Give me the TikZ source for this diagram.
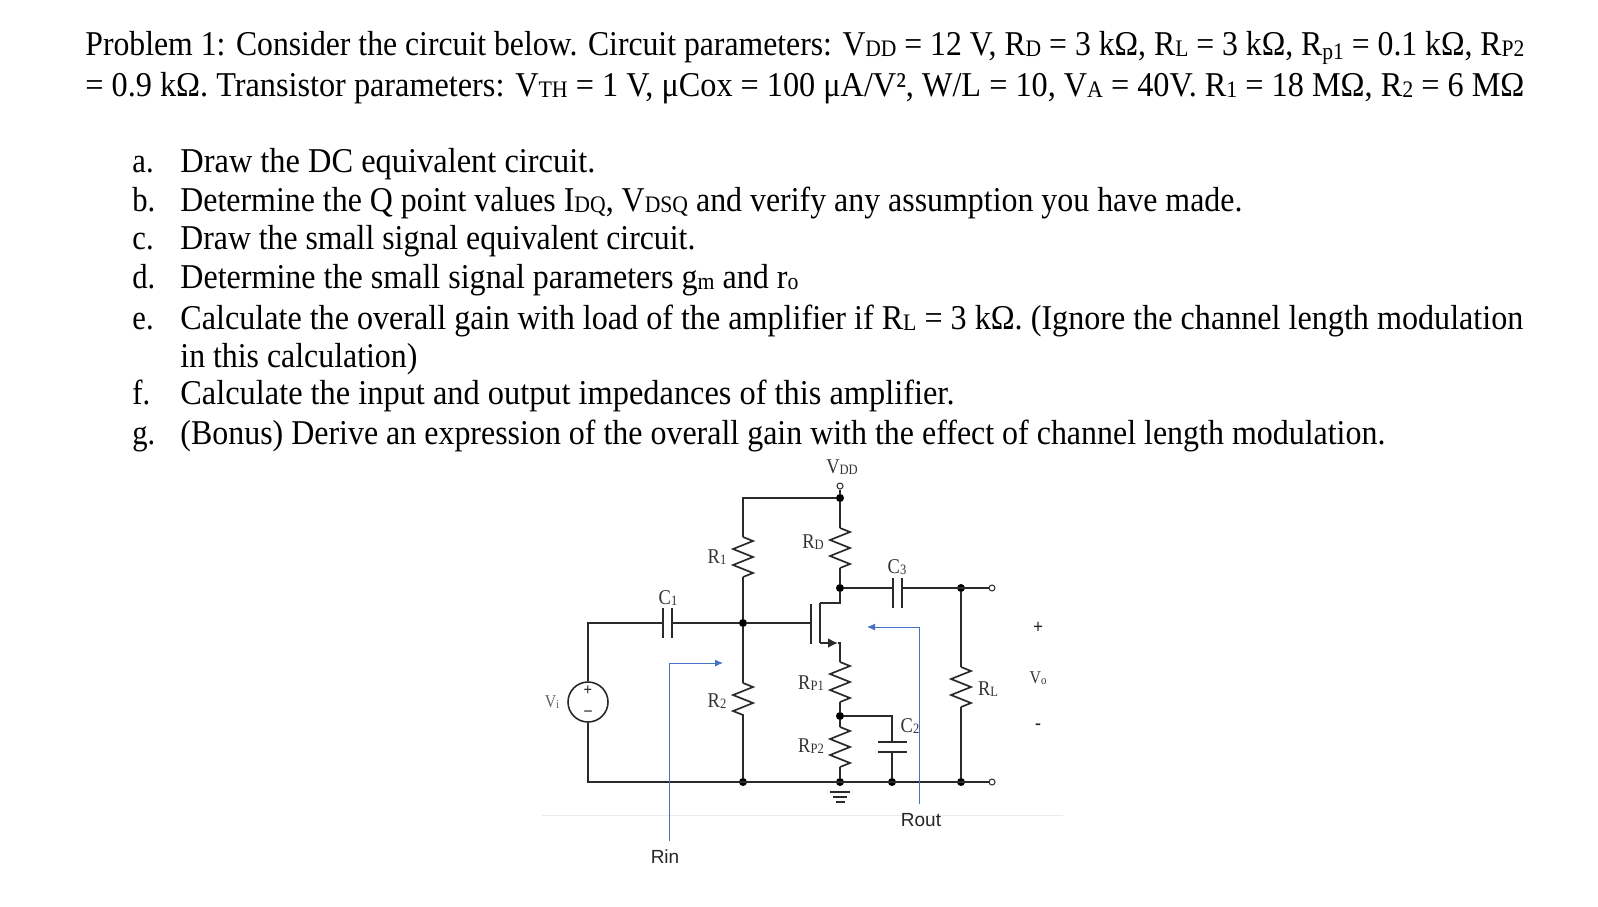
\documentclass[tikz,border=0pt]{standalone}
\usepackage{fontspec}
\usepackage{graphicx}
\setmainfont[FakeStretch=0.88]{Liberation Serif}
\setsansfont{Liberation Sans}
\usetikzlibrary{arrows.meta,decorations.pathmorphing}
\definecolor{wirec}{HTML}{2A2A2A}
\definecolor{bluec}{HTML}{4472C4}
\newcommand{\lowr}[1]{\raisebox{-.12ex}{\scalebox{.68}{#1}}}
\newcommand{\lowp}[1]{\raisebox{-.3ex}{\scalebox{.68}{#1}}}
\newcommand{\fitw}[2]{\resizebox{#1pt}{\height}{#2}}
\tikzset{
  txtline/.style={anchor=base west,inner sep=0pt,font=\fontsize{17.4}{19}\selectfont},
  wire/.style={draw=wirec,line width=.85pt},
  res/.style={wire,decorate,decoration={zigzag,segment length=8pt,amplitude=5pt}},
  plate/.style={draw=wirec,line width=1.3pt},
  dotc/.style={circle,fill=black,inner sep=0pt,minimum size=4pt},
  opnc/.style={circle,draw=wirec,fill=white,line width=.5pt,inner sep=0pt,minimum size=3pt},
  lbl/.style={inner sep=0pt,text=black!80,font=\fontsize{10.5}{11}\selectfont},
  sgn/.style={inner sep=0pt,text=black!85,font=\bfseries\fontsize{10}{11}\selectfont},
  sns/.style={draw=bluec,line width=.45pt},
  snslbl/.style={inner sep=0pt,font=\sffamily\fontsize{9.5}{11}\selectfont,text=black!85},
}
\begin{document}
\begin{tikzpicture}[x=.5pt,y=-.5pt]
  \useasboundingbox (0,0) rectangle (1598,906);
  % problem text
  \node[txtline] (l1) at (85,55) {\fitw{719.5}{Problem 1: Consider the circuit below. Circuit parameters: V\lowr{DD} = 12 V, R\lowr{D} = 3 kΩ, R\lowr{L} = 3 kΩ, R\lowp{p1} = 0.1 kΩ, R\lowr{P2}}};
  \node[txtline] (l2) at (85,96) {\fitw{719.5}{= 0.9 kΩ. Transistor parameters: V\lowr{TH} = 1 V, μCox = 100 μA/V², W/L = 10, V\lowr{A} = 40V. R\lowr{1} = 18 MΩ, R\lowr{2} = 6 MΩ}};
  \node[txtline] (ia) at (132,172) {a.};
  \node[txtline] (ta) at (180,172) {\fitw{207.5}{Draw the DC equivalent circuit.}};
  \node[txtline] (ib) at (132,211) {b.};
  \node[txtline] (tb) at (180,211) {\fitw{531}{Determine the Q point values I\lowr{DQ}, V\lowr{DSQ} and verify any assumption you have made.}};
  \node[txtline] (ic) at (132,249) {c.};
  \node[txtline] (tc) at (180,249) {\fitw{257.5}{Draw the small signal equivalent circuit.}};
  \node[txtline] (id) at (132,288) {d.};
  \node[txtline] (td) at (180,288) {\fitw{309}{Determine the small signal parameters g\lowr{m} and r\lowr{o}}};
  \node[txtline] (ie) at (132,329) {e.};
  \node[txtline] (te) at (180,329) {\fitw{671.5}{Calculate the overall gain with load of the amplifier if R\lowr{L} = 3 kΩ. (Ignore the channel length modulation}};
  \node[txtline] (te2) at (180,367) {\fitw{118.5}{in this calculation)}};
  \node[txtline] (if) at (132,404) {f.};
  \node[txtline] (tf) at (180,404) {\fitw{387}{Calculate the input and output impedances of this amplifier.}};
  \node[txtline] (ig) at (132,444) {g.};
  \node[txtline] (tg) at (180,444) {\fitw{602.5}{(Bonus) Derive an expression of the overall gain with the effect of channel length modulation.}};
  % junctions
  \coordinate (topl) at (743,498);
  \node[dotc] (jvdd) at (840,498) {};
  \node[opnc] (vdd) at (840,486) {};
  \node[dotc] (jgate) at (743,623) {};
  \node[dotc] (jdrain) at (840,588) {};
  \node[dotc] (jout) at (961,588) {};
  \node[opnc] (outp) at (992,588) {};
  \node[dotc] (jp) at (840,716) {};
  \node[dotc] (gr2) at (743,782) {};
  \node[dotc] (grp) at (840,782) {};
  \node[dotc] (grc) at (892,782) {};
  \node[dotc] (grl) at (961,782) {};
  \node[opnc] (outn) at (992,782) {};
  \coordinate (botl) at (588,782);
  \coordinate (topv) at (588,623);
  \node[circle,draw=wirec,line width=.8pt,minimum size=20pt,inner sep=0pt] (vs) at (588,702) {};
  % resistors
  \coordinate (r1a) at (743,537); \coordinate (r1b) at (743,577);
  \coordinate (r2a) at (743,683); \coordinate (r2b) at (743,722);
  \coordinate (rda) at (840,528); \coordinate (rdb) at (840,568);
  \coordinate (rp1a) at (840,662); \coordinate (rp1b) at (840,702);
  \coordinate (rp2a) at (840,727); \coordinate (rp2b) at (840,767);
  \coordinate (rla) at (961,667); \coordinate (rlb) at (961,707);
  \draw[res] (r1a) -- (r1b);
  \draw[res] (r2a) -- (r2b);
  \draw[res] (rda) -- (rdb);
  \draw[res] (rp1a) -- (rp1b);
  \draw[res] (rp2a) -- (rp2b);
  \draw[res] (rla) -- (rlb);
  % capacitors
  \coordinate (c1a) at (663,623); \coordinate (c1b) at (672,623);
  \coordinate (c3a) at (893,588); \coordinate (c3b) at (902,588);
  \coordinate (c2a) at (892,742); \coordinate (c2b) at (892,752);
  \draw[plate] (663,608) -- (663,638) (672,608) -- (672,638);
  \draw[plate] (893,578) -- (893,608) (902,578) -- (902,608);
  \draw[plate] (878,742) -- (907,742) (878,752) -- (907,752);
  % wires
  \draw[wire] (vs) -- (topv) -- (c1a);
  \draw[wire] (c1b) -- (jgate) -- (811,623);
  \draw[wire] (vs) -- (botl) -- (outn);
  \draw[wire] (gr2) -- (r2b);
  \draw[wire] (r2a) -- (jgate) -- (r1b);
  \draw[wire] (r1a) -- (topl) -- (jvdd) -- (vdd);
  \draw[wire] (jvdd) -- (rda);
  \draw[wire] (rdb) -- (jdrain) -- (c3a);
  \draw[wire] (c3b) -- (outp);
  \draw[wire] (jout) -- (rla);
  \draw[wire] (rlb) -- (grl);
  \draw[wire] (rp1b) -- (jp) -- (rp2a);
  \draw[wire] (rp2b) -- (grp);
  \draw[wire] (jp) -- (892,716) -- (c2a);
  \draw[wire] (c2b) -- (grc);
  % transistor
  \draw[plate] (811,604) -- (811,644);
  \draw[plate] (820,603) -- (820,643);
  \draw[wire,line width=1.2pt] (jdrain) -- (840,603) -- (820,603);
  \draw[wire,line width=1.2pt,-{Latex[length=5pt,width=5pt]}] (820,643) -- (838,643);
  \draw[wire] (838,643) -- (840,643) -- (rp1a);
  % ground
  \draw[plate] (830,792) -- (850,792) (833,797) -- (847,797) (836,802) -- (845,802);
  % faint scan line
  \draw[black!8,line width=.4pt] (542,815) -- (1063,815);
  % sense lines
  \node[snslbl] (rin) at (665,857) {Rin};
  \node[snslbl] (rout) at (921,820) {Rout};
  \draw[sns,-{Latex[length=4pt,width=3.5pt]}] (669,841) -- (669,663) -- (723,663);
  \draw[sns,-{Latex[length=4pt,width=3.5pt]}] (919,804) -- (919,627) -- (867,627);
  % labels
  \node[lbl] (lvdd) at (842,467) {V\lowr{DD}};
  \node[lbl] (lr1) at (717,557) {R\lowr{1}};
  \node[lbl] (lr2) at (717,701) {R\lowr{2}};
  \node[lbl] (lrd) at (813,542) {R\lowr{D}};
  \node[lbl] (lrp1) at (811,683) {R\lowr{P1}};
  \node[lbl] (lrp2) at (811,746) {R\lowr{P2}};
  \node[lbl] (lrl) at (988,689) {R\lowr{L}};
  \node[lbl] (lc1) at (668,598) {C\lowr{1}};
  \node[lbl] (lc2) at (910,726) {C\lowr{2}};
  \node[lbl] (lc3) at (897,567) {C\lowr{3}};
  \node[lbl,text=black!60,font=\fontsize{9}{10}\selectfont] (lvi) at (552,702) {V\lowr{i}};
  \node[lbl,font=\fontsize{9}{10}\selectfont] (lvo) at (1038,678) {V\lowr{o}};
  \node[sgn,font=\bfseries\fontsize{8.5}{9}\selectfont] (plsv) at (588,691) {+};
  \node[sgn,font=\bfseries\fontsize{8.5}{9}\selectfont] (minv) at (588,713) {–};
  \node[sgn] (plso) at (1038,628) {+};
  \node[sgn] (mino) at (1038,727) {-};
\end{tikzpicture}
\end{document}
